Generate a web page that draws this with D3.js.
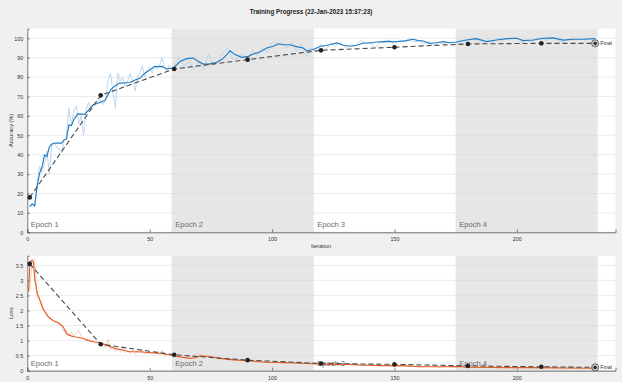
<!DOCTYPE html>
<html><head><meta charset="utf-8">
<script src="https://cdn.jsdelivr.net/npm/d3@7"></script>
<style>
html,body{margin:0;padding:0;background:#f0f0f0;}
svg{display:block;font-family:"Liberation Sans",Arial,sans-serif;}
</style></head><body>
<svg id="c" width="622" height="382"></svg>
<script>
// ---------------- data ----------------
const titleText = "Training Progress (22-Jan-2023 15:37:23)";
const epochBounds = [0, 59, 117, 175, 233];
const epochLabels = ["Epoch 1", "Epoch 2", "Epoch 3", "Epoch 4"];
const xTicks = [0, 50, 100, 150, 200];
const accTicks = [0,10,20,30,40,50,60,70,80,90,100];
const lossTicks = [0,0.5,1,1.5,2,2.5,3,3.5];
const valIters = [1, 30, 60, 90, 120, 150, 180, 210, 232];
const valAcc = [18.0, 70.6, 84.2, 89.0, 93.8, 95.4, 97.1, 97.4, 97.4];
const valLoss = [3.55, 0.88, 0.53, 0.35, 0.24, 0.21, 0.16, 0.13, 0.11];

// smoothed training accuracy [iteration, %]
const accSmooth = [[1,13.2],[2,14.6],[3,13.7],[4,23.5],[5,30.4],[6,33.5],[7,39.9],[8,39],[9,44],[10,45.5],[11.6,46],[14,46],[15,47.6],[16,48],[17,55.3],[18,55],[19,58],[20.6,61],[23.5,60.8],[25,63],[26.8,65.6],[29.3,66.8],[31.7,67.9],[34.2,73.7],[35.8,75.4],[37.5,76.8],[40,77.1],[42,77.2],[44,78.5],[46,79.4],[48,82],[50,83.7],[52,85.4],[55,85.5],[57,84.2],[59.7,84.7],[62.4,88],[65.1,89.5],[67.8,89.8],[69.9,88.1],[71.9,86.7],[74,86.7],[76.7,87.3],[79.5,89],[81.5,91.6],[82.8,93.6],[84.9,91.6],[87.6,90.2],[90.3,90.7],[92.3,91.9],[95,92.9],[97.8,95],[100.5,95.9],[102.5,97.2],[104.5,96.7],[107.3,96.7],[110,95.7],[112.7,95],[114.1,93.6],[116.8,94.2],[119.6,95.8],[123.6,96.7],[126.4,97.6],[129.1,96.4],[131.8,95.9],[134.6,96.4],[137.3,97.6],[140,97.6],[142.7,98.1],[146.8,98.4],[150.9,98.2],[154.9,98.8],[157.6,99.5],[159.7,98.8],[161.7,98.6],[164.5,97.4],[167.2,97.7],[169.9,98.3],[172.6,97.7],[175.3,98.1],[179.4,99.1],[183.5,99.8],[187.6,98.3],[191.7,99.1],[195.8,99.8],[199.9,100],[202.6,98.8],[206.7,99.1],[210.8,100],[214.8,100.2],[218.9,99.1],[223,99.5],[227.1,99.5],[232,99.8]];

// raw training accuracy [iteration, %]
const accRaw = [[1,13],[2,15],[3,13],[4,25],[5,34],[6,31],[7,35],[8,42],[9,30],[10,45],[11,46],[12,44],[13,43],[14,41],[15,47],[16,50],[17,64],[18,55],[19,63],[20,65],[21,56],[22,60],[23,50],[24,63],[25,67],[26,64],[27,66],[28,67],[29,68],[30,68],[31,66],[32,68],[33,78],[34,82],[35,72],[36,64],[37,82],[38,78],[39,80],[40,75],[41,78],[42,82],[43,78],[44,73],[45,80],[46,82],[47,86],[48,80],[49,84],[50,85],[51,82],[52,86],[53,84],[54,86],[55,90],[56,85],[57,83],[58,86],[59,84],[60,86],[62,90],[64,86],[66,88],[68,84],[70,88],[72,84],[74,92],[76,86],[78,88],[80,93],[82,95],[84,89],[86,90],[88,92],[90,89],[92,94],[94,91],[96,95],[98,93],[100,98],[102,96],[104,98],[106,95],[108,98],[110,93],[112,97],[114,91],[116,95],[118,93],[120,97],[122,94],[124,98],[126,96],[128,98],[130,95],[132,97],[134,96],[136,99],[138,97],[140,98],[142,95],[144,98],[146,98],[148,99],[150,97],[152,99],[154,98],[156,100],[158,98],[160,99],[162,97],[164,98],[166,96],[168,98],[170,97],[172,98],[174,96],[176,98],[178,99],[180,98],[182,100],[184,99],[186,97],[188,99],[190,98],[192,100],[194,99],[196,100],[198,100],[200,100],[202,98],[204,99],[206,98],[208,100],[210,100],[212,99],[214,100],[216,100],[218,98],[220,99],[222,100],[224,99],[226,100],[228,99],[230,100],[232,100]];

// smoothed training loss [iteration, loss]
const lossSmooth = [[0.5,2.62],[1.1,3.62],[1.8,3.66],[2.5,3.62],[3.1,3.01],[4.1,2.57],[4.9,2.4],[6.3,2.07],[7.2,1.96],[8.6,1.79],[10.6,1.66],[12.7,1.59],[14.7,1.46],[16.1,1.22],[18.1,1.15],[20.2,1.11],[22.9,1.07],[24.9,1.0],[27,0.96],[29.7,0.93],[32.4,0.85],[35.8,0.74],[39.2,0.68],[42,0.63],[46,0.63],[50.1,0.6],[54.2,0.58],[58.3,0.52],[62.4,0.46],[66.5,0.41],[69.2,0.44],[70.5,0.49],[74.6,0.47],[78.7,0.41],[84.2,0.36],[89.6,0.33],[97.8,0.28],[106,0.27],[114.2,0.24],[122.4,0.21],[127.8,0.22],[136,0.19],[144.2,0.17],[152.3,0.17],[160.5,0.13],[168.7,0.13],[176,0.14],[180,0.12],[190,0.11],[200,0.1],[210,0.1],[220,0.09],[232,0.08]];

// raw training loss [iteration, loss]
const lossRaw = [[1,2.7],[2,3.7],[3,3.7],[4,2.4],[5,2.4],[6,2.2],[7,2.0],[8,1.8],[9,1.75],[10,1.7],[11,1.65],[12,1.6],[13,1.55],[14,1.45],[15,1.3],[16,1.35],[17,1.15],[18,1.3],[19,1.15],[20,1.25],[21,1.35],[22,1.15],[23,1.1],[24,1.0],[25,1.05],[26,0.95],[27,1.0],[28,0.9],[29,0.95],[30,0.85],[31,0.9],[32,0.75],[33,1.05],[34,0.7],[35,0.8],[36,0.65],[37,0.7],[38,0.62],[39,0.75],[40,0.6],[41,0.65],[42,0.58],[43,0.7],[44,0.55],[45,0.62],[46,0.6],[47,0.68],[48,0.55],[49,0.62],[50,0.58],[52,0.6],[54,0.55],[55,0.68],[56,0.5],[58,0.55],[60,0.5],[62,0.45],[64,0.42],[66,0.48],[68,0.52],[70,0.58],[72,0.45],[74,0.5],[76,0.42],[78,0.38],[80,0.42],[82,0.36],[84,0.4],[86,0.34],[88,0.36],[90,0.32],[92,0.35],[94,0.3],[96,0.32],[98,0.27],[100,0.3],[104,0.25],[108,0.28],[112,0.23],[116,0.26],[120,0.22],[124,0.24],[128,0.2],[132,0.22],[136,0.18],[140,0.2],[144,0.16],[148,0.19],[152,0.15],[156,0.17],[160,0.12],[164,0.15],[168,0.12],[172,0.14],[176,0.11],[180,0.13],[184,0.1],[188,0.12],[192,0.09],[196,0.11],[200,0.08],[204,0.1],[208,0.08],[212,0.1],[216,0.07],[220,0.09],[224,0.07],[228,0.08],[232,0.07]];

// ---------------- drawing ----------------
const svg = d3.select("#c");
const xMax = 240.3;
const x = d3.scaleLinear().domain([0, xMax]).range([27.3, 615.5]);

svg.append("text").attr("x", 311).attr("y", 14).attr("text-anchor","middle")
  .attr("font-size", 6.3).attr("font-weight","bold").attr("fill","#222").text(titleText);

function panel(cfg) {
  const y = d3.scaleLinear().domain(cfg.yDomain).range(cfg.yRange);
  const g = svg.append("g");
  const [x0, x1] = x.range();
  const [yb, yt] = cfg.yRange;
  g.append("rect").attr("x", x0).attr("y", yt).attr("width", x1 - x0).attr("height", yb - yt).attr("fill", "#fff");
  for (let i = 0; i < epochLabels.length; i++) {
    if (i % 2 === 1) {
      g.append("rect").attr("x", x(epochBounds[i])).attr("y", yt)
        .attr("width", x(epochBounds[i+1]) - x(epochBounds[i])).attr("height", yb - yt)
        .attr("fill", "#e6e6e6");
    }
  }
  g.append("g").selectAll("line").data(cfg.ticks).join("line")
    .attr("x1", x0).attr("x2", x1).attr("y1", d => y(d)).attr("y2", d => y(d))
    .attr("stroke", "#d6d6d6").attr("stroke-opacity", 0.6).attr("stroke-width", 0.8);
  g.append("g").selectAll("text").data(epochLabels).join("text")
    .attr("x", (d, i) => x(epochBounds[i]) + 3.5).attr("y", yb - 5)
    .attr("font-size", 7.6).attr("fill", "#6a6a6a").text(d => d);
  const ya = g.append("g").attr("transform", `translate(${x0},0)`)
    .call(d3.axisLeft(y).tickValues(cfg.ticks).tickSize(-2.5).tickPadding(4).tickFormat(cfg.fmt));
  const xa = g.append("g").attr("transform", `translate(0,${yb})`)
    .call(d3.axisBottom(x).tickValues(xTicks).tickSize(-3).tickPadding(5));
  [ya, xa].forEach(a => {
    a.select(".domain").attr("stroke", "#555").attr("stroke-width", 0.8);
    a.selectAll(".tick line").attr("stroke", "#555").attr("stroke-width", 0.7);
    a.selectAll(".tick text").attr("font-size", 5.4).attr("fill", "#333")
      .attr("font-family", "Liberation Sans, Arial, sans-serif");
  });
  g.append("text").attr("transform", `translate(13,${(yb + yt) / 2}) rotate(-90)`)
    .attr("text-anchor", "middle").attr("font-size", 5.6).attr("fill", "#333").text(cfg.ylabel);

  const line = d3.line().x(d => x(d[0])).y(d => y(d[1]));
  g.append("path").attr("d", line(cfg.raw)).attr("fill", "none")
    .attr("stroke", cfg.lightColor).attr("stroke-width", 0.9);
  g.append("path").attr("d", line(cfg.smooth)).attr("fill", "none")
    .attr("stroke", cfg.color).attr("stroke-width", 1.15);
  const vp = valIters.map((it, i) => [it, cfg.val[i]]);
  g.append("path").attr("d", line(vp)).attr("fill", "none")
    .attr("stroke", "#4a4a4a").attr("stroke-width", 1.1).attr("stroke-dasharray", "5,3");
  g.append("g").selectAll("circle").data(vp.slice(0, -1)).join("circle")
    .attr("cx", d => x(d[0])).attr("cy", d => y(d[1])).attr("r", 2.3).attr("fill", "#222");
  const fp = vp[vp.length - 1];
  g.append("circle").attr("cx", x(fp[0])).attr("cy", y(fp[1])).attr("r", 3.6)
    .attr("fill", "#b0b0b0").attr("fill-opacity", 0.7).attr("stroke", "#555").attr("stroke-width", 0.8);
  g.append("circle").attr("cx", x(fp[0])).attr("cy", y(fp[1])).attr("r", 1.6).attr("fill", "#222");
  g.append("text").attr("x", x(fp[0]) + 5).attr("y", y(fp[1]) + 2)
    .attr("font-size", 5.4).attr("fill", "#333").text("Final");
  return g;
}

panel({ yDomain: [0, 105], yRange: [232.3, 28.6], ticks: accTicks, fmt: d3.format("d"),
  ylabel: "Accuracy (%)", raw: accRaw, smooth: accSmooth, val: valAcc,
  color: "#1f7cc4", lightColor: "#b9d2e8" });

svg.append("text").attr("x", 321).attr("y", 247.5).attr("text-anchor", "middle")
  .attr("font-size", 5.6).attr("fill", "#333").text("Iteration");

panel({ yDomain: [0, 3.82], yRange: [370.7, 255.7], ticks: lossTicks, fmt: d => d3.format("")(d),
  ylabel: "Loss", raw: lossRaw, smooth: lossSmooth, val: valLoss,
  color: "#e2612a", lightColor: "#f3c9b6" });
</script>
</body></html>
